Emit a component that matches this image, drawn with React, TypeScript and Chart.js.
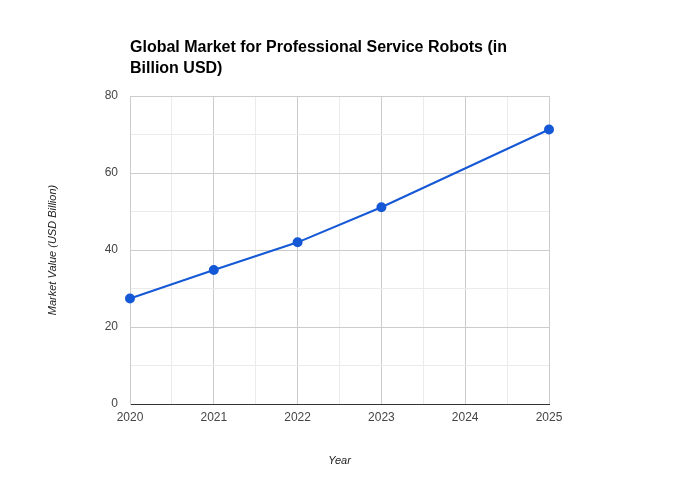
import React, { useEffect, useRef } from "react";
import { Chart, registerables } from "chart.js";

Chart.register(...registerables);

const titleLines = ["Global Market for Professional Service Robots (in", "Billion USD)"];
const xAxisTitle = "Year";
const yAxisTitle = "Market Value (USD Billion)";
const years = [2020, 2021, 2022, 2023, 2025];
const marketValues = [27.4, 34.8, 42.0, 51.1, 71.3];
const yMin = 0;
const yMax = 80;
const xMin = 2020;
const xMax = 2025;

const FONT = "Arial, 'Liberation Sans', sans-serif";

const overlayText = {
  id: "overlayText",
  afterDraw(chart: any) {
    const ctx = chart.ctx;
    const area = chart.chartArea;
    ctx.save();
    ctx.fillStyle = "#000";
    ctx.font = `bold 16px ${FONT}`;
    ctx.textAlign = "left";
    ctx.textBaseline = "alphabetic";
    titleLines.forEach((line, i) => {
      ctx.fillText(line, area.left, 52 + i * 21);
    });
    ctx.fillStyle = "#222";
    ctx.font = `italic 11px ${FONT}`;
    ctx.textAlign = "center";
    ctx.textBaseline = "middle";
    ctx.fillText(xAxisTitle, (area.left + area.right) / 2, 461);
    ctx.translate(53, (area.top + area.bottom) / 2);
    ctx.rotate(-Math.PI / 2);
    ctx.fillText(yAxisTitle, 0, 0);
    ctx.restore();
  },
};

export default function App() {
  const ref = useRef<HTMLCanvasElement | null>(null);
  useEffect(() => {
    if (!ref.current) return;
    const chart = new Chart(ref.current, {
      type: "line",
      data: {
        datasets: [
          {
            data: years.map((y, i) => ({ x: y, y: marketValues[i] })),
            borderColor: "#1558d6",
            backgroundColor: "#1558d6",
            borderWidth: 2,
            pointRadius: 4,
            pointHoverRadius: 4,
            tension: 0,
            clip: false,
          } as any,
        ],
      },
      options: {
        responsive: false,
        animation: false,
        layout: { padding: { left: 0, top: 96, right: 131, bottom: 0 } },
        plugins: {
          legend: { display: false },
          title: { display: false },
          tooltip: { enabled: false },
        },
        scales: {
          x: {
            type: "linear",
            min: xMin,
            max: xMax,
            afterFit: (s: any) => {
              s.height = 96;
            },
            ticks: {
              stepSize: 0.5,
              autoSkip: false,
              maxRotation: 0,
              color: "#444",
              font: { family: FONT, size: 12 },
              padding: 6,
              callback: (v: any) => (Number(v) % 1 === 0 ? String(v) : ""),
            },
            grid: {
              color: (c: any) => (c.tick && c.tick.value % 1 === 0 ? "#cccccc" : "#ebebeb"),
              lineWidth: 1,
              drawTicks: false,
            },
            border: { color: "#333", width: 1 },
          },
          y: {
            min: yMin,
            max: yMax,
            afterFit: (s: any) => {
              s.width = 130;
            },
            ticks: {
              stepSize: 10,
              autoSkip: false,
              color: "#444",
              font: { family: FONT, size: 12 },
              padding: 12,
              callback: (v: any) => (Number(v) % 20 === 0 ? String(v) : ""),
            },
            grid: {
              color: (c: any) =>
                c.tick && c.tick.value === 0 ? "#333" : c.tick && c.tick.value % 20 === 0 ? "#cccccc" : "#ebebeb",
              lineWidth: 1,
              drawTicks: false,
            },
            border: { color: "#cccccc", width: 1 },
          },
        },
      },
      plugins: [overlayText],
    });
    return () => chart.destroy();
  }, []);
  return (
    <div style={{ position: "fixed", left: 0, top: 0, width: 680, height: 500, background: "#fff" }}>
      <canvas ref={ref} width={680} height={500} />
    </div>
  );
}
